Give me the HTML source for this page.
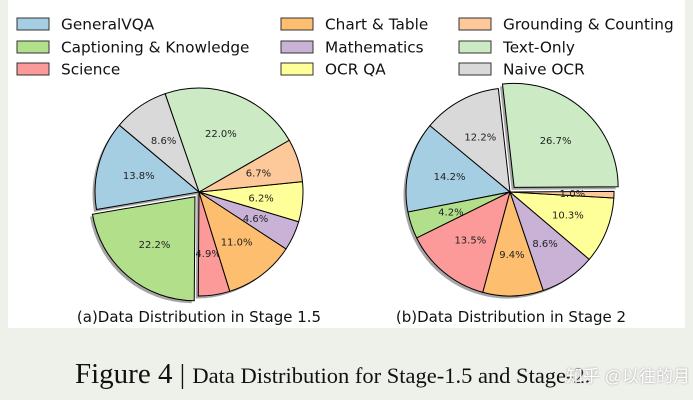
<!DOCTYPE html>
<html><head><meta charset="utf-8"><style>
html,body{margin:0;padding:0;}
body{width:693px;height:400px;background:#eef0ea;position:relative;overflow:hidden;font-family:"DejaVu Sans","Liberation Sans",sans-serif;}
#panel{position:absolute;left:8px;top:0;width:677px;height:328px;background:#fff;}
.cap{position:absolute;font-family:"Liberation Serif",serif;color:#111;white-space:nowrap;}
</style></head><body>
<div id="panel"></div>
<svg id="s" width="693" height="400" style="position:absolute;left:0;top:0" font-family="DejaVu Sans, Liberation Sans, sans-serif"></svg>
<div class="cap" style="left:75px;top:358px;font-size:29px;">Figure 4 <span style="font-size:27px">|</span> <span style="font-size:22.5px">Data Distribution for Stage-1.5 and Stage-2.</span></div>
<div style="position:absolute;left:566px;top:362px;font-size:17px;color:#fff;font-family:'Liberation Sans','Noto Sans CJK SC',sans-serif;text-shadow:0 0 2px #999;">知乎 @以往的月</div>
<script>
const C={g:'#a6cee3',c:'#b2df8a',s:'#fb9a99',ch:'#fdbf6f',m:'#cab2d6',o:'#ffff99',gr:'#fdc89a',t:'#ccebc5',n:'#d9d9d9'};
const svg=document.getElementById('s');let h='';
const leg=[[17,24,C.g,'GeneralVQA'],[17,47,C.c,'Captioning & Knowledge'],[17,69,C.s,'Science'],
[281,24,C.ch,'Chart & Table'],[281,47,C.m,'Mathematics'],[281,69,C.o,'OCR QA'],
[459,24,C.gr,'Grounding & Counting'],[459,47,C.t,'Text-Only'],[459,69,C.n,'Naive OCR']];
for(const [x,y,c,t] of leg){h+=`<rect x="${x}" y="${y-6}" width="32" height="12" fill="${c}" stroke="#333" stroke-width="1"/><text x="${x+44}" y="${y+5.5}" font-size="15.3" fill="#111">${t.replace('&','&amp;')}</text>`;}
function pie(cx,cy,r,data){
 let a=140,sh='',fg='';
 for(const [p,c,lab,e] of data){
  const sp=p*3.6,a1=a*Math.PI/180,a2=(a+sp)*Math.PI/180,mid=(a+sp/2)*Math.PI/180;
  const off=e?r*0.06:0;const x0=cx+off*Math.cos(mid),y0=cy-off*Math.sin(mid);
  const P=(aa)=>[x0+r*Math.cos(aa),y0-r*Math.sin(aa)];
  const [x1,y1]=P(a1),[x2,y2]=P(a2);const big=sp>180?1:0;
  const d=`M${x0},${y0}L${x1},${y1}A${r},${r} 0 ${big} 0 ${x2},${y2}Z`;
  sh+=`<path d="${d}" transform="translate(-2.5,2.5)" fill="#000" opacity="0.35"/>`;
  fg+=`<path d="${d}" fill="${c}" stroke="#000" stroke-width="1"/>`;
  const lx=x0+0.6*r*Math.cos(mid),ly=y0-0.6*r*Math.sin(mid);
  fg+=`<text x="${lx}" y="${ly+3.5}" font-size="10" text-anchor="middle" fill="#222">${lab}</text>`;
  a+=sp;
 }
 h+=sh+fg;
}
pie(199,192,104,[[13.8,C.g,'13.8%'],[22.2,C.c,'22.2%',1],[4.9,C.s,'4.9%'],[11.0,C.ch,'11.0%'],[4.6,C.m,'4.6%'],[6.2,C.o,'6.2%'],[6.7,C.gr,'6.7%'],[22.0,C.t,'22.0%'],[8.6,C.n,'8.6%']]);
pie(510,192,104,[[14.2,C.g,'14.2%'],[4.2,C.c,'4.2%'],[13.5,C.s,'13.5%'],[9.4,C.ch,'9.4%'],[8.6,C.m,'8.6%'],[10.3,C.o,'10.3%'],[1.0,C.gr,'1.0%'],[26.7,C.t,'26.7%',1],[12.2,C.n,'12.2%']]);
h+=`<text x="199" y="322" font-size="15" text-anchor="middle" fill="#111">(a)Data Distribution in Stage 1.5</text>`;
h+=`<text x="511" y="322" font-size="15" text-anchor="middle" fill="#111">(b)Data Distribution in Stage 2</text>`;
svg.innerHTML=h;
</script>
</body></html>
